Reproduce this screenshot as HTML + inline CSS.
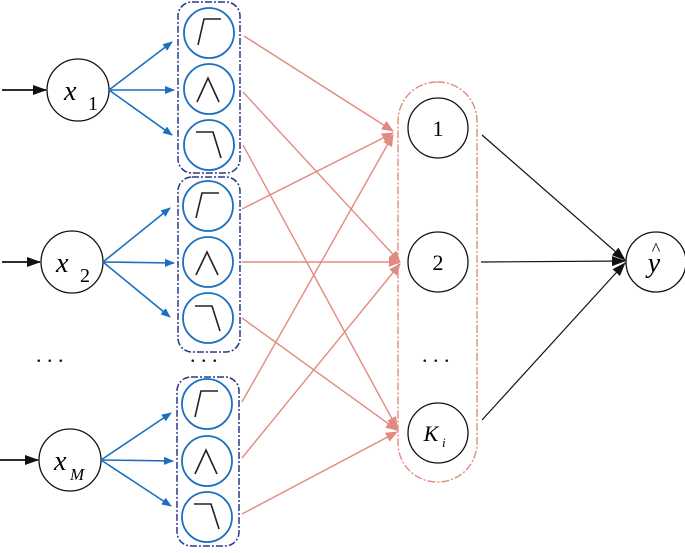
<!DOCTYPE html>
<html><head><meta charset="utf-8"><style>html,body{margin:0;padding:0;background:#fff}</style></head>
<body>
<svg width="685" height="548" viewBox="0 0 685 548" xmlns="http://www.w3.org/2000/svg">
<defs>
<marker id="ab" markerWidth="10" markerHeight="8" refX="9" refY="4" orient="auto" markerUnits="userSpaceOnUse"><path d="M0,0 L10,4 L0,8 Z" fill="#1a6fc0"/></marker>
<marker id="ak" markerWidth="14" markerHeight="10" refX="13" refY="5" orient="auto" markerUnits="userSpaceOnUse"><path d="M0,0 L14,5 L0,10 Z" fill="#111"/></marker>
<marker id="ap" markerWidth="12" markerHeight="10" refX="11" refY="5" orient="auto" markerUnits="userSpaceOnUse"><path d="M0,0 L12,5 L0,10 Z" fill="#e38a80"/></marker>
</defs>
<g font-family="Liberation Serif, serif">
<!-- input arrows -->
<line x1="2" y1="90" x2="46" y2="90" stroke="#111" stroke-width="1.8" marker-end="url(#ak)"/>
<line x1="2" y1="262" x2="40" y2="262" stroke="#111" stroke-width="1.8" marker-end="url(#ak)"/>
<line x1="0" y1="460" x2="38" y2="460" stroke="#111" stroke-width="1.8" marker-end="url(#ak)"/>
<!-- input nodes -->
<circle cx="78" cy="90" r="31" fill="none" stroke="#111" stroke-width="1.3"/>
<text x="64" y="100" font-size="28" font-style="italic">x</text><text x="88" y="110" font-size="20">1</text>
<circle cx="72" cy="262" r="31" fill="none" stroke="#111" stroke-width="1.3"/>
<text x="56" y="272" font-size="28" font-style="italic">x</text><text x="80" y="282" font-size="20">2</text>
<circle cx="70" cy="460" r="31" fill="none" stroke="#111" stroke-width="1.3"/>
<text x="54" y="470" font-size="28" font-style="italic">x</text><text x="70" y="480" font-size="17" font-style="italic">M</text>
<!-- blue arrows -->
<g stroke="#1a6fc0" stroke-width="1.6">
<line x1="109" y1="90" x2="172" y2="42" marker-end="url(#ab)"/>
<line x1="109" y1="90" x2="174" y2="90" marker-end="url(#ab)"/>
<line x1="109" y1="90" x2="172" y2="135" marker-end="url(#ab)"/>
<line x1="103" y1="262" x2="170" y2="208" marker-end="url(#ab)"/>
<line x1="103" y1="262" x2="174" y2="263" marker-end="url(#ab)"/>
<line x1="103" y1="262" x2="170" y2="317" marker-end="url(#ab)"/>
<line x1="101" y1="460" x2="171" y2="413" marker-end="url(#ab)"/>
<line x1="101" y1="460" x2="173" y2="461" marker-end="url(#ab)"/>
<line x1="101" y1="460" x2="171" y2="506" marker-end="url(#ab)"/>
</g>
<!-- group boxes -->
<g fill="none" stroke="#2a3a8a" stroke-width="1.5" stroke-dasharray="7,2,2,2">
<rect x="178" y="2" width="62" height="171" rx="14"/>
<rect x="178" y="177" width="62" height="175" rx="14"/>
<rect x="177" y="377" width="62" height="169" rx="14"/>
</g>
<!-- membership circles -->
<g fill="none" stroke="#1a6fc0" stroke-width="1.8">
<circle cx="209" cy="33" r="25"/><circle cx="209" cy="89" r="25"/><circle cx="209" cy="145" r="25"/>
<circle cx="208" cy="206" r="25"/><circle cx="208" cy="262" r="25"/><circle cx="208" cy="318" r="25"/>
<circle cx="207" cy="404" r="25"/><circle cx="207" cy="461" r="25"/><circle cx="207" cy="517" r="25"/>
</g>
<g fill="none" stroke="#222" stroke-width="1.6">
<path d="M198,45 L204,19 L221,19"/><path d="M197,102 L208,78 L219,102"/><path d="M196,132 L213,132 L221,158"/>
<path d="M196,218 L202,193 L219,193"/><path d="M196,275 L207,252 L218,275"/><path d="M195,306 L212,306 L220,331"/>
<path d="M195,417 L201,391 L218,391"/><path d="M195,474 L206,450 L217,474"/><path d="M194,504 L211,504 L219,529"/>
</g>
<!-- dots -->
<g font-size="22" fill="#111"><text x="36" y="362">. . .</text><text x="190" y="362">. . .</text><text x="422" y="362">. . .</text></g>
<!-- pink lines -->
<g stroke="#e38a80" stroke-width="1.4">
<line x1="244" y1="36" x2="393" y2="131" marker-end="url(#ap)"/>
<line x1="243" y1="92" x2="400" y2="262" marker-end="url(#ap)"/>
<line x1="243" y1="145" x2="397" y2="428" marker-end="url(#ap)"/>
<line x1="242" y1="209" x2="393" y2="133" marker-end="url(#ap)"/>
<line x1="242" y1="262" x2="400" y2="262" marker-end="url(#ap)"/>
<line x1="242" y1="318" x2="397" y2="430" marker-end="url(#ap)"/>
<line x1="242" y1="402" x2="393" y2="135" marker-end="url(#ap)"/>
<line x1="242" y1="458" x2="400" y2="264" marker-end="url(#ap)"/>
<line x1="242" y1="514" x2="397" y2="432" marker-end="url(#ap)"/>
</g>
<!-- rule box -->
<rect x="398" y="82" width="79" height="400" rx="39" fill="none" stroke="#e38a80" stroke-width="1.4" stroke-dasharray="8,2,2,2"/>
<g fill="none" stroke="#111" stroke-width="1.3">
<circle cx="438" cy="128" r="30"/><circle cx="438" cy="262" r="30"/><circle cx="438" cy="433" r="30"/>
<circle cx="656" cy="262" r="30"/>
</g>
<text x="438" y="136" font-size="22" text-anchor="middle">1</text>
<text x="438" y="270" font-size="22" text-anchor="middle">2</text>
<text x="431" y="441" font-size="22" font-style="italic" text-anchor="middle">K</text><text x="442" y="447" font-size="13" font-style="italic">i</text>
<text x="654" y="272" font-size="28" font-style="italic" text-anchor="middle">y</text><text x="656" y="255" font-size="18" text-anchor="middle">^</text>
<!-- output lines -->
<g stroke="#111" stroke-width="1.2">
<line x1="482" y1="135" x2="625" y2="260" marker-end="url(#ak)"/>
<line x1="481" y1="262" x2="625" y2="261" marker-end="url(#ak)"/>
<line x1="482" y1="420" x2="625" y2="263" marker-end="url(#ak)"/>
</g>
</g>
</svg>
</body></html>
